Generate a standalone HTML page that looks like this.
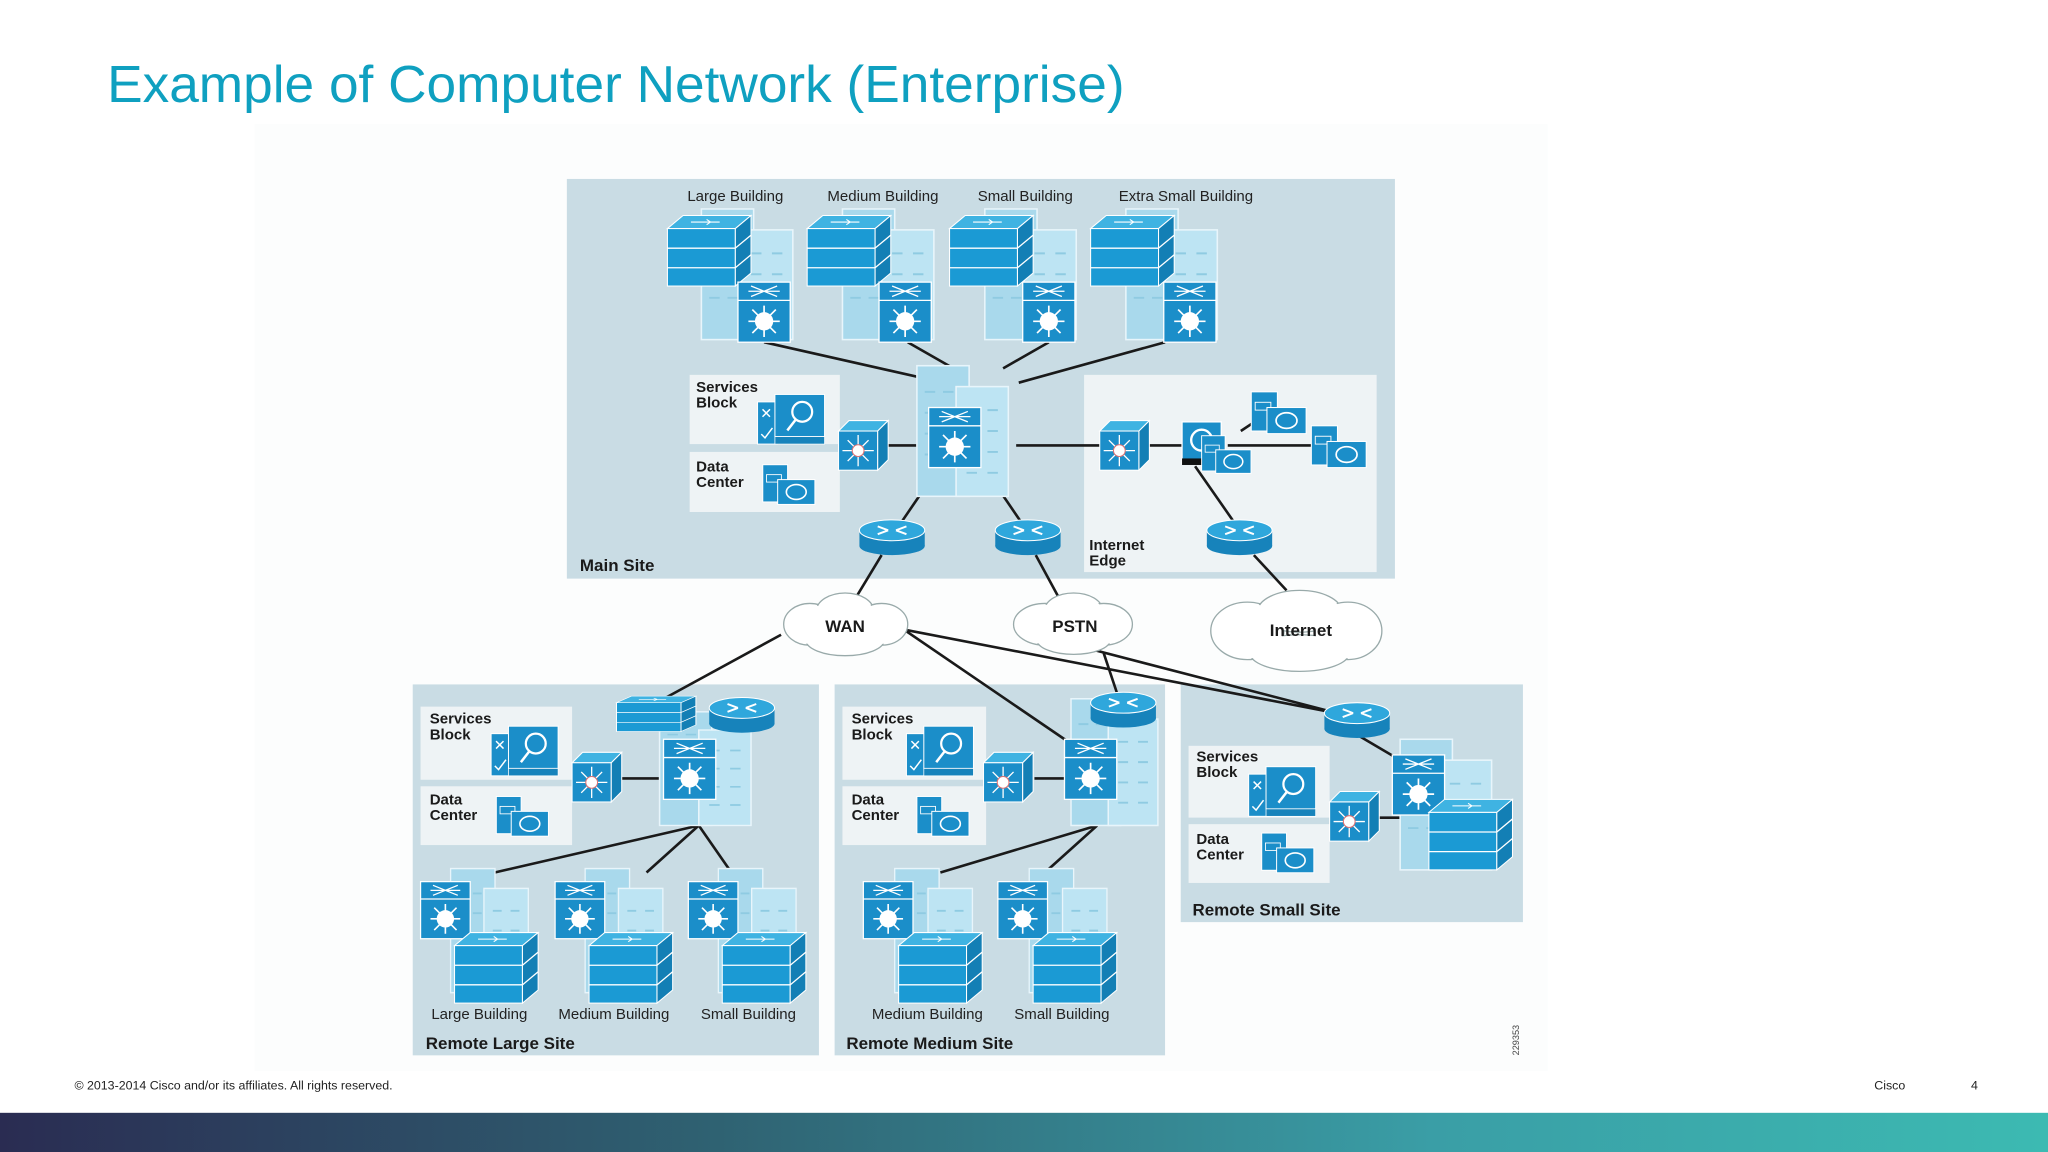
<!DOCTYPE html>
<html><head><meta charset="utf-8"><style>
html,body{margin:0;padding:0;background:#fff;}
svg{display:block;}
</style></head><body>
<svg width="2048" height="1152" viewBox="0 0 1568 882" xmlns="http://www.w3.org/2000/svg" font-family="Liberation Sans, Arial, sans-serif">
<defs>
<linearGradient id="bar" x1="0" x2="1" y1="0" y2="0">
<stop offset="0" stop-color="#2a2c52"/><stop offset="0.35" stop-color="#2f6272"/><stop offset="0.7" stop-color="#3a9ea6"/><stop offset="1" stop-color="#3cbab2"/>
</linearGradient>
<g id="bldg">
<rect x="0" y="0" width="40" height="100" fill="#a9d9ec" stroke="#e8f5fb" stroke-width="1.2"/>
<rect x="30" y="16" width="40" height="84" fill="#bde4f3" stroke="#e8f5fb" stroke-width="1.2"/>
<path d="M6 20h8M20 20h8M6 36h8M20 36h8M6 52h8M20 52h8M6 68h8M20 68h8M38 34h8M54 34h8M38 50h8M54 50h8M38 66h8M54 66h8M38 82h8M54 82h8" stroke="#8fcbe2" stroke-width="1.5"/>
</g>
<g id="stack">
<polygon points="0,10 12,0 64,0 52,10" fill="#3fb3e2" stroke="#fff" stroke-width="0.8"/>
<rect x="0" y="10" width="52" height="44" fill="#1b9ad4" stroke="#fff" stroke-width="0.8"/>
<polygon points="52,10 64,0 64,44 52,54" fill="#137fb5" stroke="#fff" stroke-width="0.8"/>
<path d="M0 25h52M0 40h52M52 25l12-10M52 40l12-10" stroke="#fff" stroke-width="1"/>
<path d="M18 5h14M30 3l3 2-3 2M40 5h-14" stroke="#fff" stroke-width="0.8" fill="none"/>
</g>
<g id="l3">
<rect x="0" y="0" width="40" height="46" fill="#1b8ec9" stroke="#fff" stroke-width="1"/>
<path d="M0 14h40" stroke="#fff"/>
<path d="M10 3l20 8M30 3l-20 8M8 7h24" stroke="#fff" stroke-width="1"/>
<path d="M20 30l-12 0M20 30l12 0M20 30l0-12M20 30l0 12M20 30l-9-9M20 30l9-9M20 30l-9 9M20 30l9 9" stroke="#fff" stroke-width="1.3"/>
<circle cx="20" cy="30" r="7" fill="#fff"/>
</g>
<g id="cube">
<polygon points="0,8 8,0 38,0 30,8" fill="#3fb3e2" stroke="#fff" stroke-width="0.8"/>
<rect x="0" y="8" width="30" height="30" fill="#1b8ec9" stroke="#fff" stroke-width="0.8"/>
<polygon points="30,8 38,0 38,30 30,38" fill="#137fb5" stroke="#fff" stroke-width="0.8"/>
<path d="M15 23h-12M15 23h12M15 23v-12M15 23v12M15 23l-8-8M15 23l8-8M15 23l-8 8M15 23l8 8" stroke="#fff" stroke-width="1"/>
<circle cx="15" cy="23" r="4.5" fill="#fff" stroke="#e07070" stroke-width="0.8"/>
</g>
<g id="router">
<rect x="0" y="8" width="50" height="12" fill="#1783bb"/>
<ellipse cx="25" cy="20" rx="25" ry="7" fill="#1783bb"/>
<ellipse cx="25" cy="8" rx="25" ry="8" fill="#2fa7dc" stroke="#fff" stroke-width="0.8"/>
<path d="M14 5l8 3M36 5l-8 3M14 11l8-3M36 11l-8-3" stroke="#fff" stroke-width="1.5"/>
</g>
<g id="server">
<rect x="0" y="4" width="20" height="30" fill="#1b8ec9" stroke="#fff" stroke-width="0.8"/>
<rect x="3" y="12" width="12" height="6" fill="none" stroke="#fff" stroke-width="0.7"/>
<rect x="12" y="16" width="30" height="20" fill="#1b8ec9" stroke="#fff" stroke-width="0.8"/>
<ellipse cx="27" cy="26" rx="8" ry="6" fill="none" stroke="#fff" stroke-width="1.3"/>
</g>
<g id="svc">
<rect x="0" y="6" width="16" height="34" fill="#1b8ec9" stroke="#fff" stroke-width="0.8"/>
<rect x="14" y="0" width="40" height="34" fill="#1b8ec9" stroke="#fff" stroke-width="0.8"/>
<rect x="14" y="34" width="40" height="6" fill="#1783bb" stroke="#fff" stroke-width="0.6"/>
<circle cx="36" cy="14" r="8" fill="none" stroke="#fff" stroke-width="1.8"/>
<path d="M31 20l-7 9" stroke="#fff" stroke-width="2"/>
<path d="M4 12l6 6M10 12l-6 6M3 32l3 3 6-8" stroke="#fff" stroke-width="1.2" fill="none"/>
</g>
</defs>

<rect width="1568" height="882" fill="#fff"/>
<rect x="195" y="95" width="990" height="725" fill="#fcfdfd"/>
<text x="82" y="78" font-size="40" fill="#0fa0c0" textLength="779" lengthAdjust="spacingAndGlyphs">Example of Computer Network (Enterprise)</text>

<!-- Panels -->
<rect x="434" y="137" width="634" height="306" fill="#c9dce4"/>
<rect x="830" y="287" width="224" height="151" fill="#eef3f5"/>
<rect x="528" y="287" width="115" height="53" fill="#eef3f5"/>
<rect x="528" y="346" width="115" height="46" fill="#eef3f5"/>
<rect x="316" y="524" width="311" height="284" fill="#c9dce4"/>
<rect x="639" y="524" width="253" height="284" fill="#c9dce4"/>
<rect x="904" y="524" width="262" height="182" fill="#c9dce4"/>
<rect x="322" y="541" width="116" height="56" fill="#eef3f5"/>
<rect x="322" y="602" width="116" height="45" fill="#eef3f5"/>
<rect x="645" y="541" width="110" height="56" fill="#eef3f5"/>
<rect x="645" y="602" width="110" height="45" fill="#eef3f5"/>
<rect x="910" y="571" width="108" height="55" fill="#eef3f5"/>
<rect x="910" y="631" width="108" height="45" fill="#eef3f5"/>

<!-- Lines -->
<g stroke="#1a1a1a" stroke-width="2" fill="none">
<path d="M585 262L718 292M695 262L730 282M803 262L768 282M892 262L780 293"/>
<path d="M680 341H702M778 341H842M880 341H907M940 341H1008M950 330L962 322"/>
<path d="M705 378L690 400M767 378L782 400M915 357L945 400"/>
<path d="M675 425L655 458M793 425L812 460M960 425L985 452"/>
<path d="M476 596H506M535 632L370 670M535 632L495 668M535 632L560 668"/>
<path d="M792 596H818M840 632L720 668M840 632L800 668"/>
<path d="M1038 562L1072 582M1056 626H1072"/>
</g>

<!-- Main site buildings -->
<g>
<use href="#bldg" transform="translate(537,160)"/><use href="#stack" transform="translate(511,165)"/><use href="#l3" transform="translate(565,216)"/>
<use href="#bldg" transform="translate(645,160)"/><use href="#stack" transform="translate(618,165)"/><use href="#l3" transform="translate(673,216)"/>
<use href="#bldg" transform="translate(754,160)"/><use href="#stack" transform="translate(727,165)"/><use href="#l3" transform="translate(783,216)"/>
<use href="#bldg" transform="translate(862,160)"/><use href="#stack" transform="translate(835,165)"/><use href="#l3" transform="translate(891,216)"/>
</g>
<use href="#bldg" transform="translate(702,280)"/>
<use href="#l3" transform="translate(711,312)"/>
<use href="#cube" transform="translate(642,322)"/>
<use href="#svc" transform="translate(580,302) scale(0.95)"/>
<use href="#server" transform="translate(584,352) scale(0.95)"/>
<use href="#cube" transform="translate(842,322)"/>
<g transform="translate(905,323)"><rect width="30" height="32" fill="#1b8ec9" stroke="#fff"/><circle cx="15" cy="14" r="8" fill="none" stroke="#fff" stroke-width="1.8"/><rect x="0" y="28" width="16" height="5" fill="#111"/></g>
<use href="#server" transform="translate(920,330) scale(0.9)"/>
<use href="#server" transform="translate(958,296) scale(1)"/>
<use href="#server" transform="translate(1004,322) scale(1)"/>
<use href="#router" transform="translate(658,398)"/>
<use href="#router" transform="translate(762,398)"/>
<use href="#router" transform="translate(924,398)"/>

<!-- WAN/PSTN links -->
<g stroke="#1a1a1a" stroke-width="2" fill="none">
<path d="M598 486L510 534M692 482L818 568M692 482L1018 545M835 497L1020 545M845 500L855 530"/>
</g>

<!-- Clouds -->
<g fill="#fff" stroke="#9aa" stroke-width="1">
<ellipse cx="620" cy="478" rx="20" ry="16"/><ellipse cx="647" cy="468" rx="22" ry="14"/><ellipse cx="675" cy="478" rx="20" ry="16"/><ellipse cx="647" cy="490" rx="30" ry="12"/>
<ellipse cx="800" cy="478" rx="24" ry="16"/><ellipse cx="822" cy="467" rx="22" ry="13"/><ellipse cx="845" cy="478" rx="22" ry="16"/><ellipse cx="822" cy="490" rx="28" ry="11"/>
<ellipse cx="955" cy="483" rx="28" ry="22"/><ellipse cx="995" cy="468" rx="32" ry="16"/><ellipse cx="1032" cy="483" rx="26" ry="22"/><ellipse cx="995" cy="500" rx="38" ry="14"/>
</g>
<g fill="#fff">
<ellipse cx="620" cy="478" rx="19" ry="15"/><ellipse cx="647" cy="468" rx="21" ry="13"/><ellipse cx="675" cy="478" rx="19" ry="15"/><ellipse cx="647" cy="490" rx="29" ry="11"/>
<ellipse cx="800" cy="478" rx="23" ry="15"/><ellipse cx="822" cy="467" rx="21" ry="12"/><ellipse cx="845" cy="478" rx="21" ry="15"/><ellipse cx="822" cy="490" rx="27" ry="10"/>
<ellipse cx="955" cy="483" rx="27" ry="21"/><ellipse cx="995" cy="468" rx="31" ry="15"/><ellipse cx="1032" cy="483" rx="25" ry="21"/><ellipse cx="995" cy="500" rx="37" ry="13"/>
</g>

<!-- Remote large -->
<use href="#bldg" transform="translate(505,545) scale(1,0.87)"/>
<use href="#stack" transform="translate(472,533) scale(0.95,0.5)"/>
<use href="#router" transform="translate(543,534)"/>
<use href="#l3" transform="translate(508,566)"/>
<use href="#cube" transform="translate(438,576)"/>
<use href="#svc" transform="translate(376,556) scale(0.95)"/>
<use href="#server" transform="translate(380,606) scale(0.95)"/>
<use href="#bldg" transform="translate(345,665) scale(0.85,0.95)"/><use href="#l3" transform="translate(322,675) scale(0.95,0.95)"/><use href="#stack" transform="translate(348,714)"/>
<use href="#bldg" transform="translate(448,665) scale(0.85,0.95)"/><use href="#l3" transform="translate(425,675) scale(0.95,0.95)"/><use href="#stack" transform="translate(451,714)"/>
<use href="#bldg" transform="translate(550,665) scale(0.85,0.95)"/><use href="#l3" transform="translate(527,675) scale(0.95,0.95)"/><use href="#stack" transform="translate(553,714)"/>

<!-- Remote medium -->
<use href="#bldg" transform="translate(820,535) scale(0.95,0.97)"/>
<use href="#router" transform="translate(835,530)"/>
<use href="#l3" transform="translate(815,566)"/>
<use href="#cube" transform="translate(753,576)"/>
<use href="#svc" transform="translate(694,556) scale(0.95)"/>
<use href="#server" transform="translate(702,606) scale(0.95)"/>
<use href="#bldg" transform="translate(685,665) scale(0.85,0.95)"/><use href="#l3" transform="translate(661,675) scale(0.95,0.95)"/><use href="#stack" transform="translate(688,714)"/>
<use href="#bldg" transform="translate(788,665) scale(0.85,0.95)"/><use href="#l3" transform="translate(764,675) scale(0.95,0.95)"/><use href="#stack" transform="translate(791,714)"/>

<!-- Remote small -->
<use href="#router" transform="translate(1014,538)"/>
<use href="#bldg" transform="translate(1072,566)"/>
<use href="#l3" transform="translate(1066,578)"/>
<use href="#stack" transform="translate(1094,612)"/>
<use href="#cube" transform="translate(1018,606)"/>
<use href="#svc" transform="translate(956,587) scale(0.95)"/>
<use href="#server" transform="translate(966,634) scale(0.95)"/>

<!-- Labels -->
<g font-size="11.5" fill="#222">
<text x="563" y="154" text-anchor="middle">Large Building</text>
<text x="676" y="154" text-anchor="middle">Medium Building</text>
<text x="785" y="154" text-anchor="middle">Small Building</text>
<text x="908" y="154" text-anchor="middle">Extra Small Building</text>
<text x="367" y="780" text-anchor="middle">Large Building</text>
<text x="470" y="780" text-anchor="middle">Medium Building</text>
<text x="573" y="780" text-anchor="middle">Small Building</text>
<text x="710" y="780" text-anchor="middle">Medium Building</text>
<text x="813" y="780" text-anchor="middle">Small Building</text>
</g>
<g font-size="11.5" font-weight="bold" fill="#1a1a1a">
<text x="533" y="300">Services</text><text x="533" y="312">Block</text>
<text x="533" y="361">Data</text><text x="533" y="373">Center</text>
<text x="834" y="421">Internet</text><text x="834" y="433">Edge</text>
<text x="329" y="554">Services</text><text x="329" y="566">Block</text>
<text x="329" y="616">Data</text><text x="329" y="628">Center</text>
<text x="652" y="554">Services</text><text x="652" y="566">Block</text>
<text x="652" y="616">Data</text><text x="652" y="628">Center</text>
<text x="916" y="583">Services</text><text x="916" y="595">Block</text>
<text x="916" y="646">Data</text><text x="916" y="658">Center</text>
</g>
<g font-size="13" font-weight="bold" fill="#1a1a1a">
<text x="444" y="437">Main Site</text>
<text x="326" y="803">Remote Large Site</text>
<text x="648" y="803">Remote Medium Site</text>
<text x="913" y="701">Remote Small Site</text>
<text x="647" y="484" text-anchor="middle">WAN</text>
<text x="823" y="484" text-anchor="middle">PSTN</text>
<text x="996" y="487" text-anchor="middle">Internet</text>
</g>
<text transform="translate(1163,808) rotate(-90)" font-size="7" fill="#444">229353</text>

<!-- Footer -->
<text x="57" y="834" font-size="9.5" fill="#222">© 2013-2014  Cisco and/or its affiliates. All rights reserved.</text>
<text x="1435" y="834" font-size="9.5" fill="#222">Cisco</text>
<text x="1509" y="834" font-size="9.5" fill="#222">4</text>
<rect x="0" y="852" width="1568" height="30" fill="url(#bar)"/>
</svg>
</body></html>
